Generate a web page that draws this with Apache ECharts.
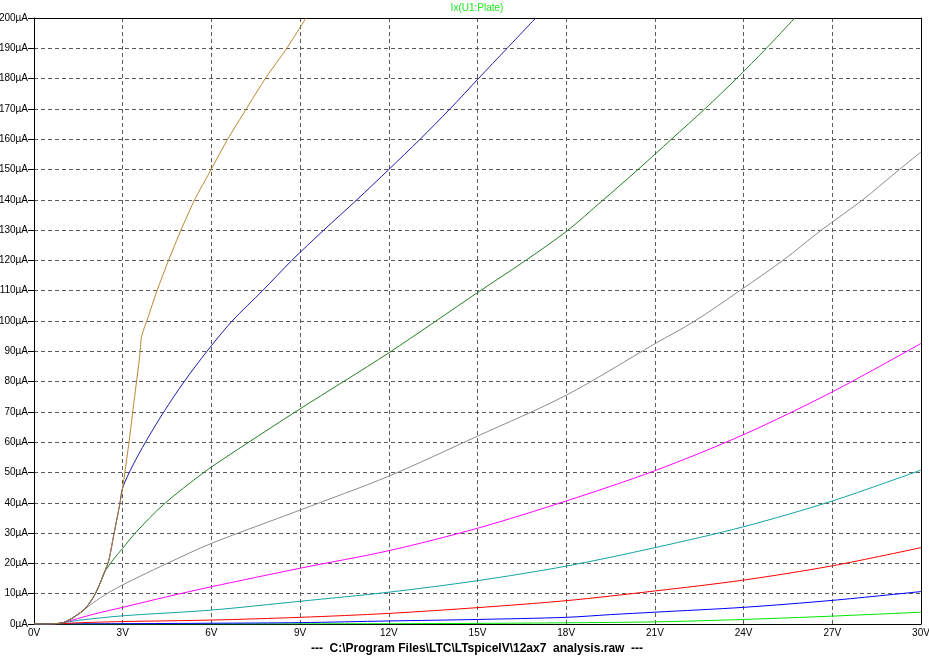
<!DOCTYPE html>
<html>
<head>
<meta charset="utf-8">
<script src="https://cdn.jsdelivr.net/npm/echarts@6/dist/echarts.min.js"></script>
<style>
html,body{margin:0;padding:0;background:#fff;}
#c{width:929px;height:657px;}
</style>
</head>
<body>
<div id="c"></div>
<script>
// Plate voltage (V) vs plate current (µA), one curve per grid step
var xTicks = [0, 3, 6, 9, 12, 15, 18, 21, 24, 27, 30];
var yTicks = [0, 10, 20, 30, 40, 50, 60, 70, 80, 90, 100, 110, 120, 130, 140, 150, 160, 170, 180, 190, 200];

var curveGreen = [[0,0],[3,0],[6,0],[9,0.05],[12,0.1],[15,0.2],[18,0.4],[21,0.7],[24,1.5],[27,2.6],[30,3.9]];
var curveBlue = [[0,0],[3,0.1],[6,0.25],[9,0.45],[12,1.0],[15,1.5],[18,2.2],[19.5,3.1],[21,3.9],[24,5.5],[27,7.8],[30,10.7]];
var curveRed = [[0,0],[0.6,0],[1.5,0.4],[3,0.8],[6,1.3],[9,2.2],[12,3.5],[15,5.4],[18,7.7],[21,10.9],[24,14.5],[27,19.2],[30,25.2]];
var curveTeal = [[0,0],[0.5,0],[0.9,0.3],[1.5,1.2],[3,2.7],[6,4.6],[9,7.5],[12,10.5],[15,14.3],[18,19.1],[21,25.2],[24,32.1],[27,40.6],[30,50.8]];
var curveMagenta = [[0,0],[0.5,0],[0.8,0.15],[1.0,0.5],[1.3,1.3],[2,3.2],[3,5.5],[4.5,9],[6,12.3],[9,18.4],[12,24.2],[15,31.6],[18,40.6],[21,50.6],[24,62.5],[27,76.6],[30,92.6]];
var curveGray = [[0,0],[0.5,0],[0.8,0.15],[1.0,0.5],[1.18,1.3],[1.4,2.6],[1.68,4.6],[2.0,7.0],[2.5,10.2],[3,12.9],[3.6,15.8],[4.5,20],[6,26.6],[9,37.6],[12,48.8],[15,62],[18,75.5],[21,92.5],[22.35,100],[23.87,110],[25.33,120],[26.63,130],[28.03,140],[29.27,150],[30,155.8]];
var curveDarkGreen = [[0,0],[0.5,0],[0.8,0.15],[1.0,0.5],[1.18,1.3],[1.4,2.6],[1.68,4.6],[1.9,7.2],[2.08,10.1],[2.25,13.8],[2.38,17],[2.7,21.5],[3,25],[3.46,30.4],[4.39,39.5],[5.74,50],[6.64,56],[9,71],[12,89.5],[15.08,109.9],[16.57,119.6],[18.01,129.6],[19.2,139.5],[20.43,150],[21.56,160],[22.69,170],[23.76,180],[24.77,190],[25.73,200]];
var curveDarkBlue = [[0,0],[0.5,0],[0.8,0.15],[1.0,0.5],[1.18,1.3],[1.4,2.6],[1.68,4.6],[1.9,7.2],[2.08,10.1],[2.25,13.8],[2.38,17],[2.53,21],[2.7,29.5],[2.79,34],[2.9,39.5],[3,45],[3.35,52.5],[3.77,60],[4.39,70],[5.08,80],[5.85,90],[6.7,100],[7.73,110],[8.72,120],[9.8,130],[10.92,140],[12,150],[13.06,160],[14.07,170],[15.03,180],[16,190],[16.97,200]];
var curveBrown = [[0,0],[0.5,0],[0.8,0.15],[1.0,0.5],[1.18,1.3],[1.4,2.6],[1.68,4.6],[1.9,7.2],[2.08,10.1],[2.25,13.8],[2.38,17],[2.53,21],[2.7,29.5],[2.79,34],[2.9,39.5],[3,45],[3.2,59],[3.39,74],[3.57,88],[3.63,94.5],[3.72,97.5],[3.85,101],[4.16,110],[4.55,120],[4.97,130],[5.43,140],[5.99,150],[6.55,160],[7.18,170],[7.82,180],[8.55,190],[9.2,200]];

var seriesData = [curveGreen, curveBlue, curveRed, curveTeal, curveMagenta, curveGray, curveDarkGreen, curveDarkBlue, curveBrown];
var seriesColors = ['#00e600', '#0000ff', '#ff0000', '#14a3a3', '#ff00ff', '#8c8c8c', '#237f23', '#1c1caa', '#b8862e'];
var seriesSmooth = [0.3, 0.3, 0.3, 0.3, 0.3, 0.3, 0.3, 0.3, 0.15];

var chart = echarts.init(document.getElementById('c'), null, {renderer: 'canvas'});
var FONT = 'Liberation Sans, Arial, sans-serif';

var series = seriesData.map(function (d, i) {
  return {
    type: 'line',
    data: d,
    showSymbol: false,
    smooth: seriesSmooth[i],
    lineStyle: {color: seriesColors[i], width: 1},
    itemStyle: {color: seriesColors[i]},
    animation: false,
    z: 3 + i
  };
});

chart.setOption({
  backgroundColor: '#ffffff',
  animation: false,
  grid: {left: 34, right: 8, top: 18, bottom: 33, containLabel: false, outerBoundsMode: 'none'},
  xAxis: [{
    type: 'value', min: xTicks[0], max: xTicks[xTicks.length - 1], interval: 3,
    axisLine: {show: true, onZero: false, lineStyle: {color: '#000', width: 1}},
    axisTick: {show: false},
    axisLabel: {margin: 4, fontSize: 10, fontFamily: FONT, color: '#000', formatter: function (v) { return v + 'V'; }},
    splitLine: {show: true, lineStyle: {color: '#5a5a5a', type: [4, 3], width: 1}}
  }, {
    type: 'value', position: 'top', min: xTicks[0], max: xTicks[xTicks.length - 1], interval: 3,
    axisLine: {show: true, onZero: false, lineStyle: {color: '#000', width: 1}},
    axisTick: {show: false}, axisLabel: {show: false}, splitLine: {show: false}
  }],
  yAxis: [{
    type: 'value', min: yTicks[0], max: yTicks[yTicks.length - 1], interval: 10,
    axisLine: {show: true, onZero: false, lineStyle: {color: '#000', width: 1}},
    axisTick: {show: true, length: 6, lineStyle: {color: '#000'}},
    axisLabel: {margin: 6, fontSize: 10, fontFamily: FONT, color: '#000', formatter: function (v) { return v + 'µA'; }},
    splitLine: {show: true, lineStyle: {color: '#5a5a5a', type: [4, 3], width: 1}}
  }, {
    type: 'value', position: 'right', min: yTicks[0], max: yTicks[yTicks.length - 1], interval: 10,
    axisLine: {show: true, onZero: false, lineStyle: {color: '#000', width: 1}},
    axisTick: {show: false}, axisLabel: {show: false}, splitLine: {show: false}
  }],
  graphic: [{
    type: 'text', x: 477, y: 8,
    style: {text: 'Ix(U1:Plate)', fill: '#22e822', font: '10px ' + FONT, textAlign: 'center', textVerticalAlign: 'middle'}
  }, {
    type: 'text', x: 477, y: 649,
    style: {text: '---  C:\\Program Files\\LTC\\LTspiceIV\\12ax7  analysis.raw  ---', fill: '#000', font: 'bold 12px ' + FONT, textAlign: 'center', textVerticalAlign: 'middle'}
  }],
  series: series
});
</script>
</body>
</html>
